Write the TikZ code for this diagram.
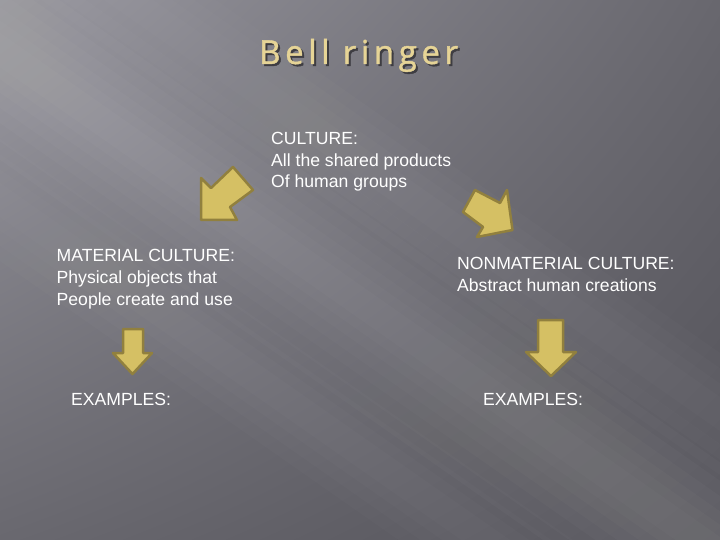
\documentclass[tikz,border=0pt]{standalone}
\usepackage{fontspec}
\usetikzlibrary{shadings}
\setmainfont{Liberation Sans}
\newfontfamily\titlefont[LetterSpace=14,FakeBold=1.2]{Open Sans}
\definecolor{arrfill}{RGB}{213,192,100}
\definecolor{arrline}{RGB}{145,128,62}
\definecolor{titlecol}{RGB}{230,212,150}
\definecolor{titleshade}{RGB}{62,61,66}
\definecolor{bgUL}{RGB}{150,149,157}
\definecolor{bgUR}{RGB}{104,103,110}
\definecolor{bgLL}{RGB}{105,104,111}
\definecolor{bgLR}{RGB}{84,83,90}
\newcommand{\shadowtext}[1]{\makebox[0pt][l]{\hspace{2pt}\raisebox{-2pt}{\textcolor{titleshade}{#1}}}#1}
\begin{document}
\begin{tikzpicture}[x=1pt,y=-1pt,
  blockarrow/.style={fill=arrfill, draw=arrline, line width=2.5pt, line join=round},
  txt/.style={text=white, font=\fontsize{17.6}{21.6}\selectfont, anchor=base west, inner sep=0pt, align=left},
  streak/.style={white, line cap=butt}]
\useasboundingbox (0,0) rectangle (720,540);
% background
\shade[upper left=bgUL, upper right=bgUR, lower left=bgLL, lower right=bgLR] (0,0) rectangle (720,540);
\begin{scope}
\clip (0,0) rectangle (720,540);
\foreach \w in {180,150,120,95,70,48,28}{
  \draw[streak, opacity=0.018, line width=\w pt] (-100,-20) -- (800,610);
}
\foreach \w in {100,75,50,28}{
  \draw[streak, opacity=0.015, line width=\w pt] (-100,130) -- (800,760);
  \draw[streak, opacity=0.015, line width=\w pt] (-100,-160) -- (800,470);
}
\end{scope}
% title
\node[anchor=base west, inner sep=0pt, text=titlecol, font=\titlefont\fontsize{33}{38}\selectfont] (title) at (259,64) {\shadowtext{Bell ringer}};
% texts (anchor = baseline of the last line)
\node[txt] (culture) at (271,187.7) {CULTURE:\\All the shared products\\Of human groups};
\node[txt] (material) at (56.5,305) {MATERIAL CULTURE:\\Physical objects that\\People create and use};
\node[txt] (nonmaterial) at (457,291) {NONMATERIAL CULTURE:\\Abstract human creations};
\node[txt] (exleft) at (71,405) {EXAMPLES:};
\node[txt] (exright) at (483,405) {EXAMPLES:};
% block arrows
\draw[blockarrow] (201,220) -- (201,178) -- (211,188) -- (233,167) -- (253,190) -- (230,207) -- (237,220) -- cycle;
\draw[blockarrow] (512.5,230) -- (507,190) -- (500,203) -- (475,190) -- (463,212) -- (483,227) -- (477,237) -- cycle;
\draw[blockarrow] (123,329) -- (143,329) -- (143,353) -- (152,353) -- (132.5,374) -- (113,353) -- (123,353) -- cycle;
\draw[blockarrow] (538,320) -- (563,320) -- (563,352) -- (576,352) -- (551,376) -- (526,352) -- (538,352) -- cycle;
\end{tikzpicture}
\end{document}
